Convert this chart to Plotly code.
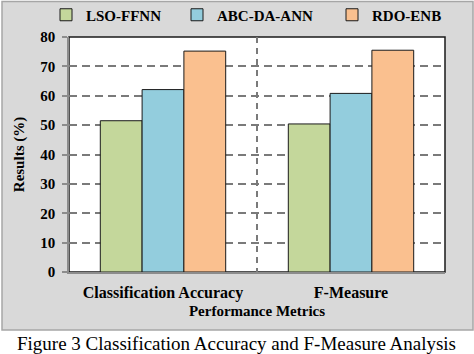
import plotly.graph_objects as go

categories = ["Classification Accuracy", "F-Measure"]
series_names = ["LSO-FFNN", "ABC-DA-ANN", "RDO-ENB"]
lso_ffnn = [51.5, 50.4]
abc_da_ann = [62.1, 60.8]
rdo_enb = [75.2, 75.5]
y_ticks = [0, 10, 20, 30, 40, 50, 60, 70, 80]
colors = ["#c4d79b", "#93cddd", "#fac08f"]

FONT = "Liberation Serif"
W, H = 474, 354
L, R, T, B = 69, 29, 37, 82
pw, ph = W - L - R, H - T - B

def px_x(x):
    return (x - L) / pw

def px_y(y):
    return (H - B - y) / ph

legend_ids = ["legend", "legend2", "legend3"]
legend_x = [46, 177, 332]

fig = go.Figure()
for name, vals, col, lid in zip(series_names, [lso_ffnn, abc_da_ann, rdo_enb], colors, legend_ids):
    fig.add_trace(go.Bar(
        x=categories, y=vals, name=name, legend=lid,
        marker=dict(color=col, line=dict(color="#1a1a1a", width=1)),
    ))

legend_style = dict(
    orientation="h", yanchor="middle", xanchor="left",
    font=dict(family=FONT, size=15, color="black", weight="bold"),
    bgcolor="rgba(0,0,0,0)", itemwidth=30,
)
legends = {}
for lid, lx in zip(legend_ids, legend_x):
    legends[lid] = dict(legend_style, x=px_x(lx), y=px_y(15))

fig.update_layout(
    width=W, height=H,
    margin=dict(l=L, r=R, t=T, b=B, autoexpand=False),
    paper_bgcolor="white",
    plot_bgcolor="rgba(0,0,0,0)",
    barmode="group",
    bargap=0.333,
    bargroupgap=0,
    font=dict(family=FONT, size=14, color="black"),
    showlegend=True,
    xaxis=dict(
        showline=True, linecolor="#8c8c8c", linewidth=1.5,
        tickson="boundaries", ticks="", showgrid=True,
        gridcolor="#7a7a7a", griddash="6px,5px", gridwidth=1.5,
        ticklabelstandoff=5,
        tickfont=dict(family=FONT, size=16, color="black", weight="bold"),
        title=dict(text="Performance Metrics", standoff=5,
                   font=dict(family=FONT, size=15, color="black", weight="bold")),
    ),
    yaxis=dict(
        range=[0, 80], tickvals=y_ticks, showline=True, linecolor="#8c8c8c", linewidth=1.5,
        ticks="outside", ticklen=5, tickcolor="#8c8c8c", tickwidth=1.5,
        showgrid=True, gridcolor="#7a7a7a", griddash="8px,5px", gridwidth=1.6,
        zeroline=False, ticklabelstandoff=4,
        tickfont=dict(family=FONT, size=15, color="black", weight="bold"),
        title=dict(text="Results (%)", standoff=12,
                   font=dict(family=FONT, size=15, color="black", weight="bold")),
    ),
    shapes=[
        dict(type="rect", xref="paper", yref="paper", layer="below",
             x0=px_x(2), x1=px_x(473), y0=px_y(330), y1=px_y(1.5),
             fillcolor="#d9d9d9", line=dict(color="#a6a6a6", width=1.5)),
        dict(type="rect", xref="paper", yref="paper", layer="below",
             x0=0, x1=1, y0=0, y1=1,
             fillcolor="white", line=dict(color="#1a1a1a", width=1.5)),
    ],
    annotations=[
        dict(text="Figure 3 Classification Accuracy and F-Measure Analysis",
             xref="paper", yref="paper", x=px_x(236), y=px_y(343),
             xanchor="center", yanchor="middle", showarrow=False,
             font=dict(family=FONT, size=19, color="black")),
    ],
    **legends,
)

fig.write_html("out.html")
